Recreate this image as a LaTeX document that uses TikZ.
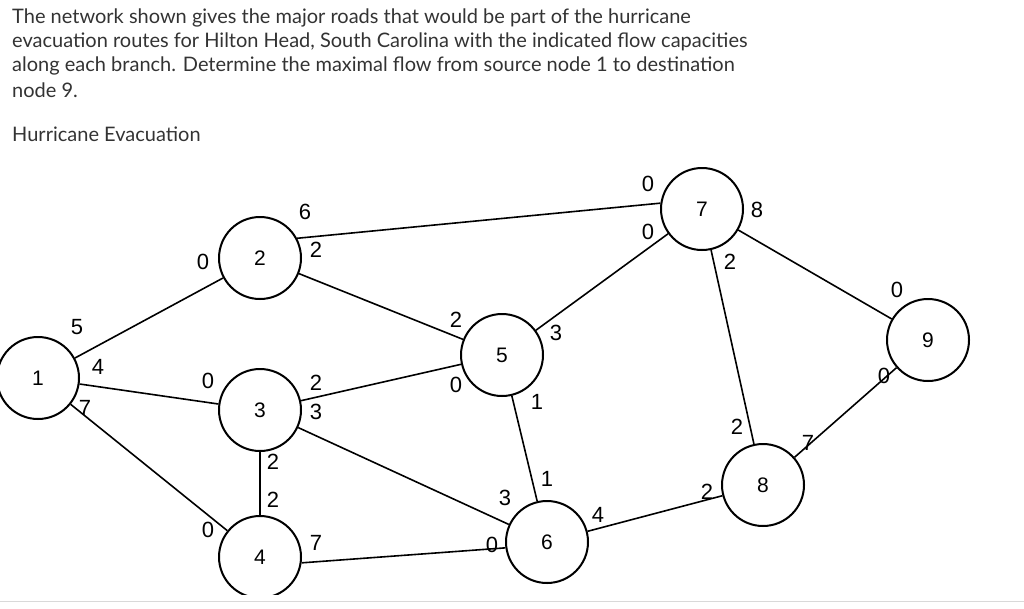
\documentclass[tikz,border=0pt]{standalone}
\usepackage{fontspec}
\setmainfont{Liberation Sans}
\newfontfamily\latofont{Lato}
\begin{document}
\begin{tikzpicture}[x=1pt,y=-1pt,
  nd/.style={circle,draw,line width=2pt,minimum size=82pt,inner sep=0pt,font=\fontsize{21}{21}\selectfont},
  lb/.style={font=\fontsize{22}{22}\selectfont,inner sep=0pt},
  ed/.style={line width=1.6pt},
  hd/.style={anchor=west,font=\latofont\fontsize{20}{20}\selectfont,text=black!80,inner sep=0pt}]
\useasboundingbox (0,0) rectangle (1024,608);
\begin{scope}
\clip (0,0) rectangle (1024,594);
\node[nd] (n1) at (38,378) {1};
\node[nd] (n2) at (260,258) {2};
\node[nd] (n3) at (260,410) {3};
\node[nd] (n4) at (260,557) {4};
\node[nd] (n5) at (502,355) {5};
\node[nd] (n6) at (547,542) {6};
\node[nd] (n7) at (702,209) {7};
\node[nd] (n8) at (763,485) {8};
\node[nd] (n9) at (928,340) {9};
\foreach \a/\b in {n1/n2,n1/n3,n1/n4,n2/n5,n3/n5,n3/n6,n3/n4,n5/n7,n5/n6,n6/n8,n7/n8,n7/n9,n8/n9}
  \draw[ed] (\a) -- (\b);
\draw[ed] (n2.28) -- (n7.172);
\draw[ed] (n4.-8) -- (n6.-172);
\end{scope}
\draw[black!15,line width=1pt] (0,601) -- (1024,601);
\node[hd] (t1) at (12,18) {The network shown gives the major roads that would be part of the hurricane};
\node[hd] (t2) at (12,42) {evacuation routes for Hilton Head, South Carolina with the indicated flow capacities};
\node[hd] (t3) at (12,66) {along each branch. Determine the maximal flow from source node 1 to destination};
\node[hd] (t4) at (12,90) {node 9.};
\node[hd] (t5) at (12,134) {Hurricane Evacuation};
\foreach \x/\y/\t [count=\i] in {305/212/6,316/250/2,203/262/0,77/327/5,98/367/4,85/408/7,208/381/0,316/383/2,316/412/3,
  273/462/2,273/500/2,208/530/0,316/543/7,456/320/2,456/385/0,556/333/3,537/402/1,547/479/1,505/498/3,492/545/0,598/515/4,
  648/184/0,648/232/0,757/210/8,730/262/2,737/427/2,808/443/7,707/492/2,897/290/0,884/376/0}
  \node[lb] (l\i) at (\x,\y) {\t};
\end{tikzpicture}
\end{document}
